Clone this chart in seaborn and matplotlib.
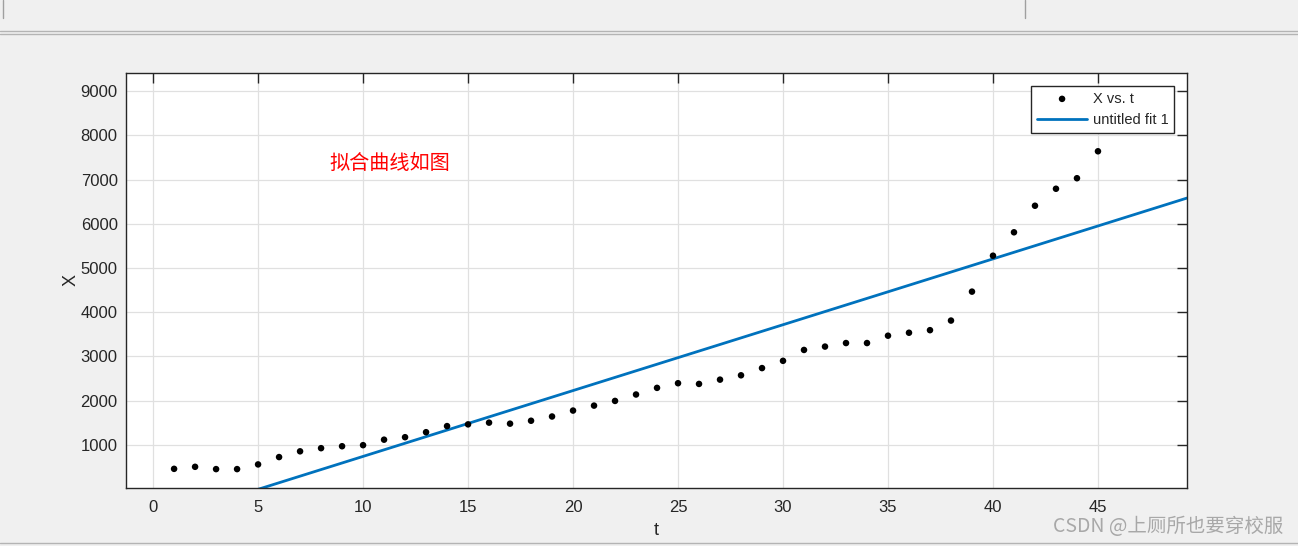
import numpy as np
import pandas as pd
import matplotlib
matplotlib.use("Agg")
import matplotlib.pyplot as plt
from matplotlib.lines import Line2D
import seaborn as sns

# data
t_vals = list(range(1, 46))
x_vals = [461, 507, 455, 455, 561, 727, 857, 928, 972, 996,
          1120, 1176, 1289, 1427, 1466, 1505, 1482, 1548, 1644, 1778,
          1890, 1996, 2141, 2291, 2396, 2380, 2477, 2575, 2738, 2902,
          3148, 3224, 3304, 3304, 3470, 3537, 3595, 3812, 4466, 5278,
          5807, 6407, 6791, 7029, 7638]
x_ticks = [0, 5, 10, 15, 20, 25, 30, 35, 40, 45]
y_ticks = [1000, 2000, 3000, 4000, 5000, 6000, 7000, 8000, 9000]
x_lim = (-1.29, 49.24)
y_lim = (28, 9407)

# "untitled fit 1" coefficients
fit_slope = 148.8
fit_intercept = -746

df = pd.DataFrame({"t": t_vals, "X": x_vals})
fit_df = pd.DataFrame({"t": list(x_lim)})
fit_df["X"] = fit_slope * fit_df["t"] + fit_intercept

sns.set_style("white")
plt.rcParams["font.family"] = ["Liberation Sans", "Noto Sans CJK SC", "DejaVu Sans"]

bg = "#f0f0f0"
fig = plt.figure(figsize=(12.98, 5.46), dpi=100, facecolor=bg)
ax = fig.add_axes([126 / 1298, 58 / 546, 1061 / 1298, 415 / 546])
ax.set_facecolor("white")

sns.scatterplot(data=df, x="t", y="X", ax=ax, color="black", s=22,
                edgecolor="none", label="X vs. t", zorder=3)
sns.lineplot(data=fit_df, x="t", y="X", ax=ax, color="#0072BD", lw=2,
             label="untitled fit 1", zorder=2)

ax.set_xlim(*x_lim)
ax.set_ylim(*y_lim)
ax.set_xticks(x_ticks)
ax.set_yticks(y_ticks)
ax.grid(True, color="#e0e0e0", lw=0.9)
ax.set_axisbelow(True)
ax.tick_params(direction="in", length=7, width=1, colors="#262626",
               labelsize=12, top=True, right=True)
ax.tick_params(axis="y", pad=6)
ax.tick_params(axis="x", pad=9)
for s in ax.spines.values():
    s.set_color("#262626")
    s.set_linewidth(1)

ax.set_xlabel("t", fontsize=13, color="#262626", labelpad=5)
ax.set_ylabel("X", fontsize=13, color="#262626", labelpad=1)

ax.text(8.4, 7370, "拟合曲线如图", color="red", fontsize=14.5, va="center",
        family=["Noto Sans CJK SC", "DejaVu Sans"])

leg = ax.legend(loc="upper right", bbox_to_anchor=(0.988, 0.969),
                borderaxespad=0, fontsize=10.5, fancybox=False,
                framealpha=1, edgecolor="#262626", handlelength=3.4,
                handletextpad=0.4, borderpad=0.4, labelspacing=0.5,
                markerscale=1)
leg.get_frame().set_linewidth(1)

fig.text(1283 / 1298, 1 - 527 / 546, "CSDN @上厕所也要穿校服", color="#a8a8a8",
         fontsize=14, ha="right", va="center",
         family=["Noto Sans CJK SC", "DejaVu Sans"])

# window chrome around the figure
for yy in (31, 34):
    fig.add_artist(Line2D([0, 1], [1 - yy / 546] * 2, color="#b4b4b4", lw=1))
fig.add_artist(Line2D([0, 1], [1 - 543 / 546] * 2, color="#b4b4b4", lw=1))
for xx in (3, 1025):
    fig.add_artist(Line2D([xx / 1298] * 2, [1, 1 - 18 / 546], color="#a0a0a0", lw=1))

fig.savefig("out.png", dpi=100, facecolor=bg)
